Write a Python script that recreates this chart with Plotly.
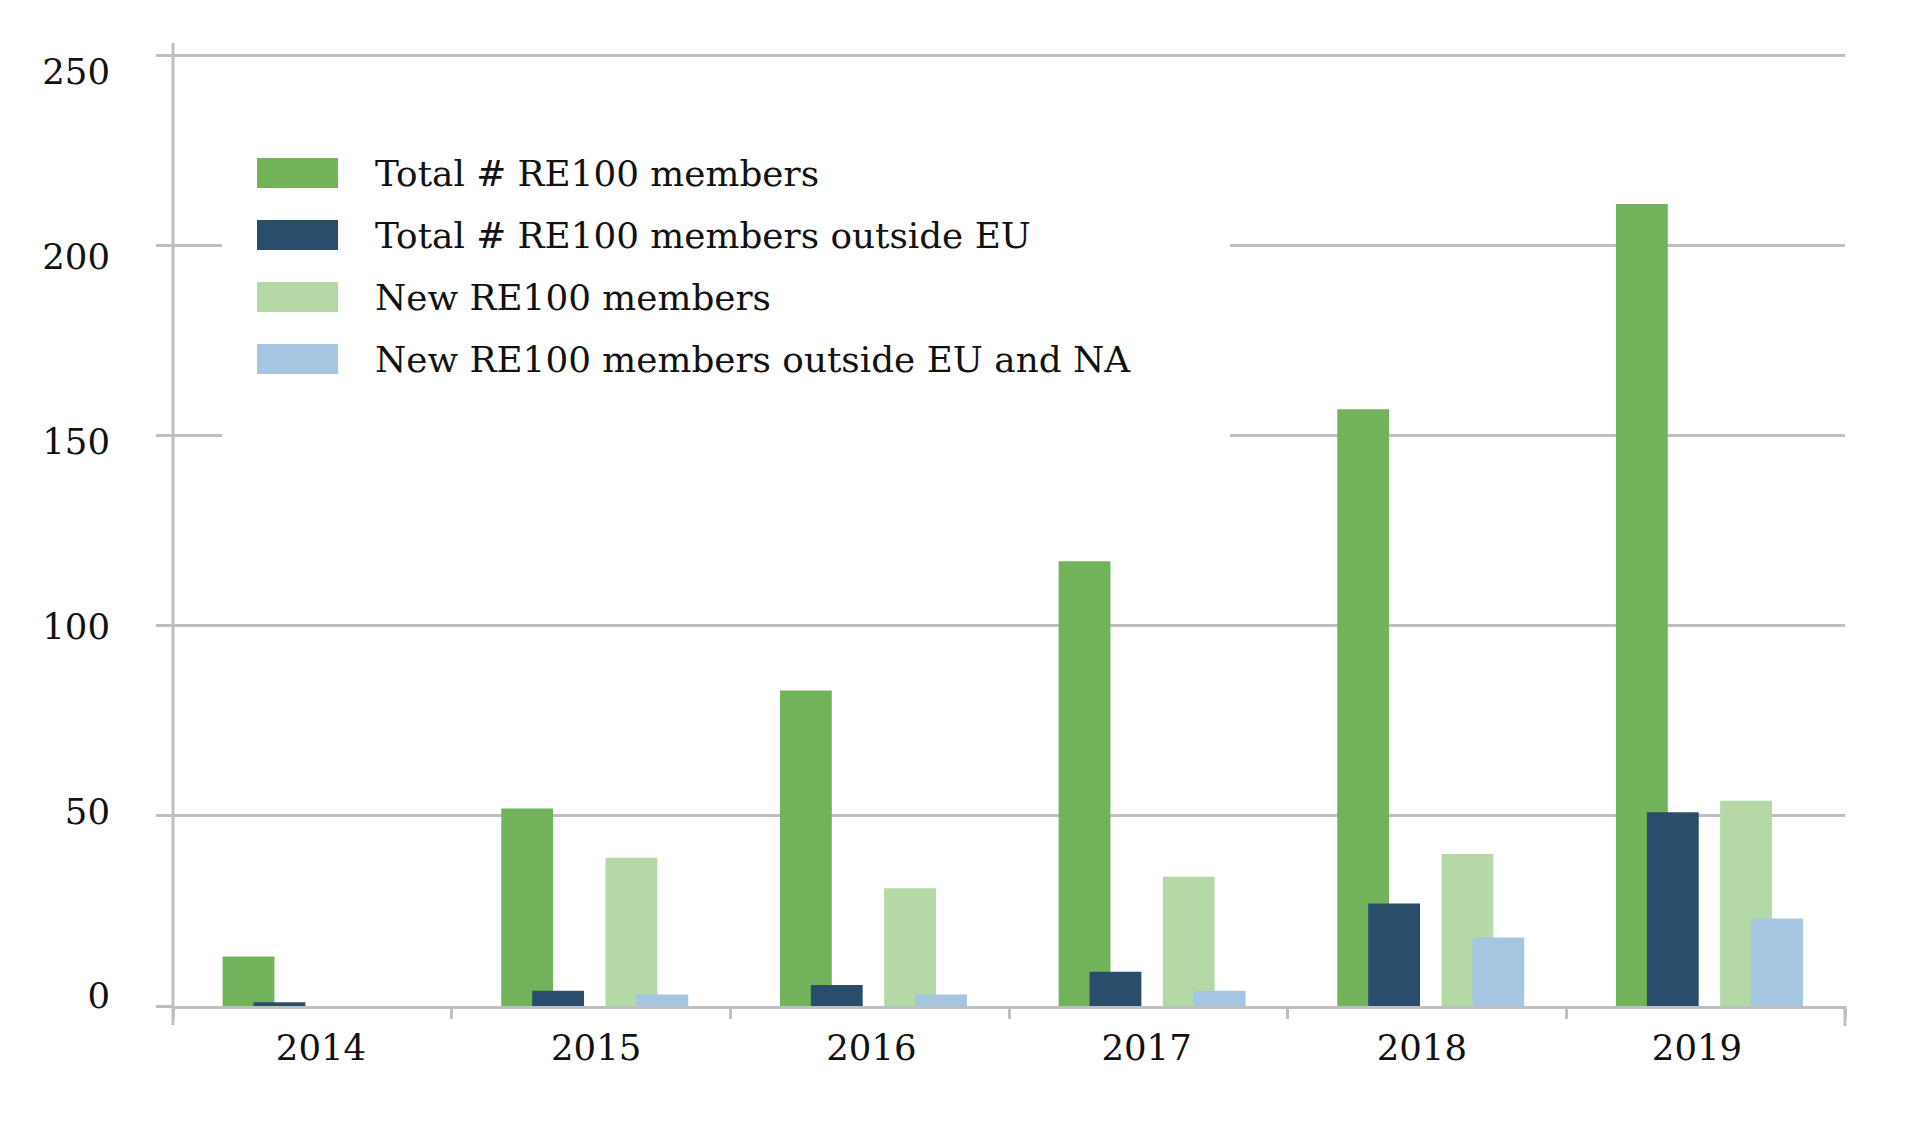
import plotly.graph_objects as go

# ---- data ----
years = ["2014", "2015", "2016", "2017", "2018", "2019"]
series_names = [
    "Total # RE100 members",
    "Total # RE100 members outside EU",
    "New RE100 members",
    "New RE100 members outside EU and NA",
]
total_members = [13, 52, 83, 117, 157, 211]
total_outside_eu = [1, 4, 5.5, 9, 27, 51]
new_members = [None, 39, 31, 34, 40, 54]
new_outside_eu_na = [None, 3, 3, 4, 18, 23]
y_ticks = [0, 50, 100, 150, 200, 250]

series_values = [total_members, total_outside_eu, new_members, new_outside_eu_na]
colors = ["#71B25B", "#2A4D6C", "#B5D8A7", "#A5C5E0"]
offsets = [-0.322, -0.211, 0.052, 0.163]
bar_width = 0.186

# ---- layout geometry (pixels) ----
W, H = 1932, 1130
Y_MAX = 250.5
L, R, B = 173, 87, 124
PX_PER_UNIT = 3.8
T = H - B - round(Y_MAX * PX_PER_UNIT)
PW, PH = W - L - R, H - T - B
GRID = "#BDBFC2"
FONT = dict(family="DejaVu Serif", size=35.5, color="#111111")
LEG_FONT = dict(family="DejaVu Serif", size=35.8, color="#111111")


def dx(px):
    return (px - L) / PW


def dy(py):
    return (T + PH - py) / PH


fig = go.Figure()
for name, vals, col, off in zip(series_names, series_values, colors, offsets):
    fig.add_trace(go.Bar(
        x=years, y=vals, name=name, marker=dict(color=col, line=dict(width=0)),
        offset=off, width=bar_width, showlegend=False,
    ))
# empty trace so that the label-only axes are created
fig.add_trace(go.Scatter(x=[], y=[], xaxis="x2", yaxis="y2",
                         showlegend=False, hoverinfo="skip"))

shapes = []
# white legend box covering gridlines
shapes.append(dict(type="rect", xref="x domain", yref="y domain",
                   x0=dx(222), x1=dx(1230), y0=dy(460), y1=dy(105),
                   fillcolor="white", line=dict(width=0), layer="above"))
annotations = []
for i, (name, col) in enumerate(zip(series_names, colors)):
    cy = 173 + 62 * i
    shapes.append(dict(type="rect", xref="x domain", yref="y domain",
                       x0=dx(257), x1=dx(338), y0=dy(cy + 15), y1=dy(cy - 15),
                       fillcolor=col, line=dict(width=0), layer="above"))
    annotations.append(dict(text=name, xref="x domain", yref="y domain",
                            x=dx(373), y=dy(cy), xanchor="left", yanchor="middle",
                            showarrow=False, font=LEG_FONT))
# vertical y-axis line overshooting the plot area
shapes.append(dict(type="line", xref="x domain", yref="y domain",
                   x0=0, x1=0, y0=dy(1025), y1=dy(43),
                   line=dict(color=GRID, width=3), layer="above"))
# right end tick
shapes.append(dict(type="line", xref="x domain", yref="y domain",
                   x0=1, x1=1, y0=dy(1026), y1=0,
                   line=dict(color=GRID, width=3), layer="above"))

fig.update_layout(
    width=W, height=H,
    margin=dict(l=L, r=R, t=T, b=B, autoexpand=False),
    paper_bgcolor="white", plot_bgcolor="white",
    barmode="overlay",
    font=FONT,
    shapes=shapes,
    annotations=annotations,
    xaxis=dict(type="category", categoryorder="array", categoryarray=years,
               range=[-0.5, 5.5], showticklabels=False, showgrid=False,
               tickson="boundaries", ticks="outside", ticklen=10, tickwidth=3,
               tickcolor=GRID, showline=True, linecolor=GRID, linewidth=3,
               zeroline=False),
    yaxis=dict(range=[0, Y_MAX], tickvals=y_ticks, showticklabels=False,
               showgrid=True, gridcolor=GRID, gridwidth=3,
               ticks="outside", ticklen=16, tickwidth=3, tickcolor=GRID,
               showline=False, zeroline=False),
    # label axes (tick labels only)
    xaxis2=dict(overlaying="x", anchor="y2", side="bottom",
                range=[-0.5378, 5.5378], tickvals=list(range(len(years))),
                ticktext=years, showgrid=False, showline=False, zeroline=False,
                ticks="", ticklabelstandoff=17, tickfont=FONT),
    yaxis2=dict(overlaying="y", anchor="x2", side="left",
                range=[-2.706, -2.706 + PH / 3.696], tickvals=y_ticks,
                showgrid=False, showline=False, zeroline=False, ticks="",
                ticklabelstandoff=62, tickfont=FONT),
)

fig.write_html("out.html", config={"displayModeBar": False},
               post_script="document.body.style.margin='0';")
